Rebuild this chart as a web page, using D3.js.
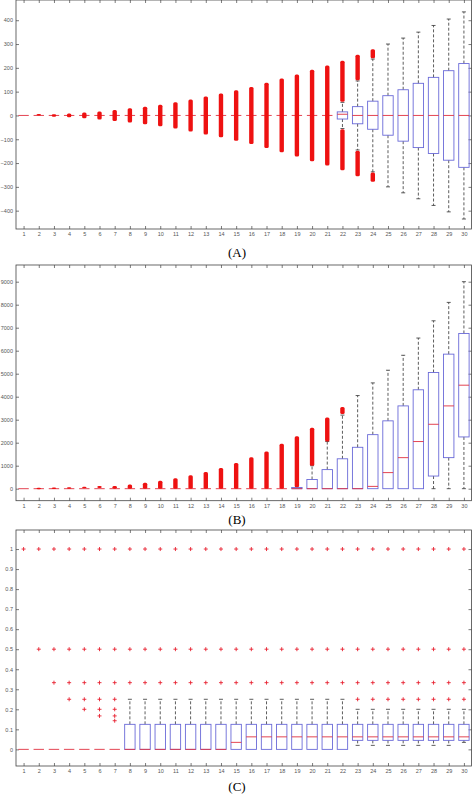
<!DOCTYPE html>
<html><head><meta charset="utf-8">
<script src="https://cdn.jsdelivr.net/npm/d3@7"></script>
<style>body{margin:0;background:#fff}svg{display:block}</style>
</head><body><svg width="474" height="799"></svg>
<script>
const cats = d3.range(1, 31)

// panel A: box stats per category
const aQ1  = [0,0,0,0,0,0,0,0,0,0,0,0,0,0,0,0,0,0,0,0,0,-15,-35,-58,-83,-108,-135,-160,-188,-218]
const aMed = [0,0,0,0,0,0,0,0,0,0,0,0,0,0,0,0,0,0,0,0,0,5,0,0,0,0,0,0,0,0]
const aQ3  = [0,0,0,0,0,0,0,0,0,0,0,0,0,0,0,0,0,0,0,0,0,15,37,60,83,108,135,160,188,218]
const aLo  = [0,0,0,0,0,0,0,0,0,0,0,0,0,0,0,0,0,0,0,0,0,-55,-145,-237,-300,-325,-350,-378,-405,-435]
const aHi  = [0,0,0,0,0,0,0,0,0,0,0,0,0,0,0,0,0,0,0,0,0,55,145,237,300,325,350,378,405,435]
const aOut = [[],[[-3,3]],[[-5,5]],[[-8,8]],[[-12,12]],[[-17,17]],[[-23,23]],[[-30,30]],[[-37,37]],
  [[-45,45]],[[-55,55]],[[-67,67]],[[-80,80]],[[-92,92]],[[-106,106]],[[-120,120]],[[-137,137]],
  [[-155,155]],[[-172,172]],[[-192,192]],[[-210,210]],[[-230,-58],[58,230]],[[-255,-148],[148,255]],
  [[-278,-240],[240,278]],[],[],[],[],[],[]]

// panel B
const bQ1  = [0,0,0,0,0,0,0,0,0,0,0,0,0,0,0,0,0,0,0,0,0,0,0,0,0,0,0,550,1350,2250]
const bMed = [0,0,0,0,0,0,0,0,0,0,0,0,0,0,0,0,0,0,0,0,0,0,0,100,700,1350,2050,2800,3600,4500]
const bQ3  = [0,0,0,0,0,0,0,0,0,0,0,0,0,0,0,0,0,0,50,400,830,1300,1800,2350,2950,3600,4300,5050,5850,6750]
const bLo  = [0,0,0,0,0,0,0,0,0,0,0,0,0,0,0,0,0,0,0,0,0,0,0,0,0,0,0,0,0,0]
const bHi  = [0,0,0,0,0,0,0,0,0,0,0,0,0,0,0,0,0,0,50,1000,2050,3200,4050,4600,5150,5800,6550,7300,8100,9000]
const bOut = [[],[[0,10]],[[0,20]],[[0,30]],[[0,50]],[[0,80]],[[0,120]],[[0,180]],[[0,260]],[[0,350]],
  [[0,450]],[[0,580]],[[0,730]],[[0,900]],[[0,1120]],[[0,1370]],[[0,1620]],[[0,1950]],[[60,2280]],
  [[1000,2650]],[[2050,3100]],[[3250,3550]],[],[],[],[],[],[],[],[]]

// panel C
const cQ1  = [0,0,0,0,0,0,0,0,0,0,0,0,0,0,0,0,0,0,0,0,0,0,.045,.045,.045,.045,.045,.045,.045,.045]
const cMed = [0,0,0,0,0,0,0,0,0,0,0,0,0,0,.035,.0625,.0625,.0625,.0625,.0625,.0625,.0625,.0625,.0625,.0625,.0625,.0625,.0625,.0625,.0625]
const cQ3  = [0,0,0,0,0,0,0,.125,.125,.125,.125,.125,.125,.125,.125,.125,.125,.125,.125,.125,.125,.125,.125,.125,.125,.125,.125,.125,.125,.125]
const cLo  = [0,0,0,0,0,0,0,0,0,0,0,0,0,0,0,0,0,0,0,0,0,0,.02,.02,.02,.02,.02,.02,.02,.035]
const cHi  = [0,0,0,0,0,0,0,.25,.25,.25,.25,.25,.25,.25,.25,.25,.25,.25,.25,.25,.25,.25,.2,.2,.2,.2,.2,.2,.2,.2]
const cOut = [[1],[.5,1],[.333,.5,1],[.25,.333,.5,1],[.2,.25,.333,.5,1],[.167,.2,.25,.333,.5,1],
  [.143,.167,.2,.25,.333,.5,1]].concat(d3.range(15).map(() => [.333,.5,1]), d3.range(8).map(() => [.25,.333,.5,1]))

const svg = d3.select('svg')

function panel(o) {
  const x = d3.scaleLinear().domain([0.5, 30.5]).range([16, 471.5])
  const y = d3.scaleLinear().domain(o.domain).range([o.bottom, o.top])
  const g = svg.append('g')
  g.append('rect').attr('x', 16).attr('y', o.top).attr('width', 455.5).attr('height', o.bottom - o.top)
    .attr('fill', 'none').attr('stroke', '#444').attr('stroke-width', 0.8)
  g.append('g').attr('transform', `translate(0,${o.bottom})`)
    .call(d3.axisBottom(x).tickValues(cats).tickSize(-3).tickPadding(3).tickFormat(d3.format('d')))
  g.append('g').attr('transform', `translate(0,${o.top})`)
    .call(d3.axisTop(x).tickValues(cats).tickSize(-3).tickFormat(''))
  g.append('g').attr('transform', 'translate(16,0)')
    .call(d3.axisLeft(y).tickValues(o.ticks).tickSize(-3).tickPadding(3).tickFormat(o.fmt))
  g.append('g').attr('transform', 'translate(471.5,0)')
    .call(d3.axisRight(y).tickValues(o.ticks).tickSize(-3).tickFormat(''))
  g.selectAll('.domain').remove()
  g.selectAll('.tick line').attr('stroke', '#444').attr('stroke-width', 0.7)
  g.selectAll('.tick text').attr('font-family', 'Liberation Sans').attr('font-size', 5.5).attr('fill', '#555')

  const hw = 5.2
  cats.forEach((c, i) => {
    const cx = x(c)
    if (o.hi[i] > o.q3[i]) {
      g.append('line').attr('x1', cx).attr('x2', cx).attr('y1', y(o.q3[i])).attr('y2', y(o.hi[i]))
        .attr('stroke', '#333').attr('stroke-dasharray', '3,2').attr('stroke-width', 0.8)
      g.append('line').attr('x1', cx - 2).attr('x2', cx + 2).attr('y1', y(o.hi[i])).attr('y2', y(o.hi[i]))
        .attr('stroke', '#333').attr('stroke-width', 0.8)
    }
    if (o.lo[i] < o.q1[i]) {
      g.append('line').attr('x1', cx).attr('x2', cx).attr('y1', y(o.q1[i])).attr('y2', y(o.lo[i]))
        .attr('stroke', '#333').attr('stroke-dasharray', '3,2').attr('stroke-width', 0.8)
      g.append('line').attr('x1', cx - 2).attr('x2', cx + 2).attr('y1', y(o.lo[i])).attr('y2', y(o.lo[i]))
        .attr('stroke', '#333').attr('stroke-width', 0.8)
    }
    if (o.q3[i] > o.q1[i]) {
      g.append('rect').attr('x', cx - hw).attr('width', 2 * hw).attr('y', y(o.q3[i]))
        .attr('height', y(o.q1[i]) - y(o.q3[i])).attr('fill', 'none').attr('stroke', '#6a6ad8').attr('stroke-width', 0.9)
    }
    g.append('line').attr('x1', cx - hw).attr('x2', cx + hw).attr('y1', y(o.med[i])).attr('y2', y(o.med[i]))
      .attr('stroke', '#e03040').attr('stroke-width', 0.9)
    if (o.ranges) o.ranges[i].forEach(r => {
      const y0 = y(r[1]), h = Math.max(y(r[0]) - y0, 1.5)
      g.append('rect').attr('x', cx - 2.2).attr('width', 4.4).attr('y', y0 - (h < 2 ? 0.75 : 0)).attr('height', h)
        .attr('rx', 1.5).attr('fill', '#ee1111')
    })
    if (o.points) o.points[i].forEach(v => {
      g.append('path').attr('d', `M${cx - 2},${y(v)}h4M${cx},${y(v) - 2}v4`)
        .attr('stroke', '#e82030').attr('stroke-width', 0.9)
    })
  })
  svg.append('text').attr('x', 237).attr('y', o.labelY).attr('text-anchor', 'middle')
    .attr('font-family', 'Liberation Serif').attr('font-size', 13).text(o.label)
}

panel({domain: [-477, 485], top: 0, bottom: 229, ticks: d3.range(-400, 401, 100), fmt: d3.format('d'),
  q1: aQ1, med: aMed, q3: aQ3, lo: aLo, hi: aHi, ranges: aOut, label: '(A)', labelY: 257})
panel({domain: [-522, 9726], top: 265, bottom: 500.7, ticks: d3.range(0, 9001, 1000), fmt: d3.format('d'),
  q1: bQ1, med: bMed, q3: bQ3, lo: bLo, hi: bHi, ranges: bOut, label: '(B)', labelY: 524})
panel({domain: [-0.083, 1.095], top: 530, bottom: 766, ticks: d3.range(0, 1.01, 0.1), fmt: d => d3.format('.1~f')(d),
  q1: cQ1, med: cMed, q3: cQ3, lo: cLo, hi: cHi, points: cOut, label: '(C)', labelY: 791})
</script></body></html>
